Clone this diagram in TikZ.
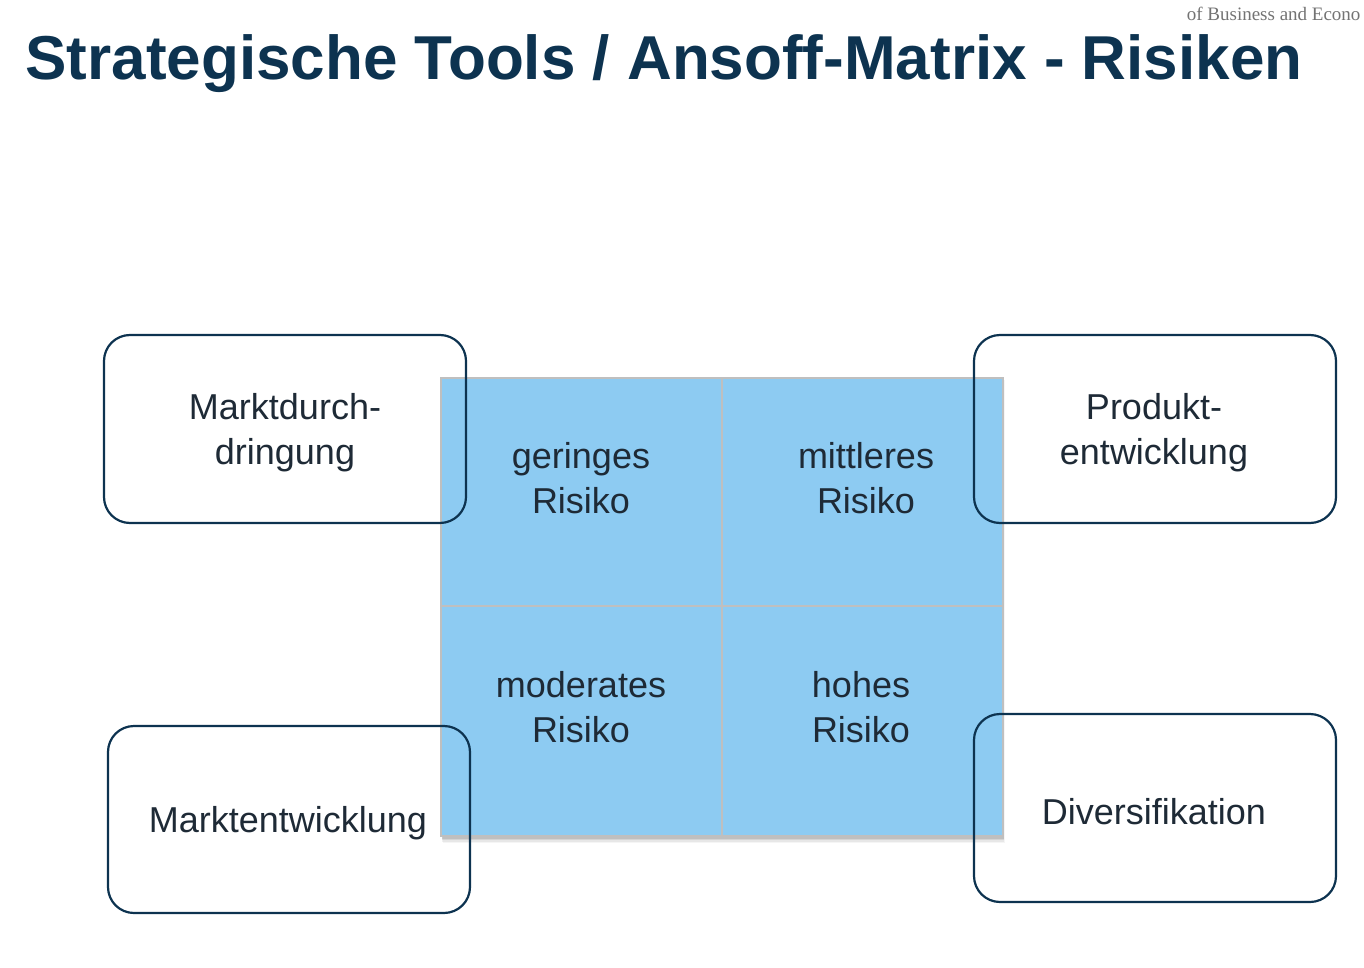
\documentclass[tikz,border=0pt]{standalone}
\usepackage{fontspec}
\setmainfont{Liberation Sans}
\newfontfamily\serifsmall{Liberation Serif}
\definecolor{navy}{HTML}{0D3350}
\definecolor{cellblue}{HTML}{8DCBF2}
\definecolor{txt}{HTML}{1E2A36}
\begin{document}
\begin{tikzpicture}[x=1pt,y=-1pt,
  lbl/.style={font=\fontsize{36}{45}\selectfont,text=txt,align=center},
  rbox/.style={draw=navy,line width=2.2pt,rounded corners=26pt},
  cell/.style={fill=cellblue,draw=black!25,line width=1.2pt}]
\useasboundingbox (0,0) rectangle (1364,968);
\node[anchor=base west,font=\bfseries\fontsize{62}{62}\selectfont,text=navy] (title) at (22,80) {Strategische Tools / Ansoff-Matrix - Risiken};
\node[anchor=base east,font=\serifsmall\fontsize{19}{19}\selectfont,text=black!55] (logo) at (1364,21) {of Business and Econo};
\foreach \i/\o in {1/0.12,2/0.1,3/0.08,4/0.06,5/0.04}
  \fill[black,opacity=\o] (441+\i*0.3,380) rectangle (1003+\i*0.3,836+\i*1.4);
\fill[cellblue] (441,378) rectangle (1003,836);
\draw[cell] (441,378) rectangle (722,606);
\draw[cell] (722,378) rectangle (1003,606);
\draw[cell] (441,606) rectangle (722,836);
\draw[cell] (722,606) rectangle (1003,836);
\node[lbl] (t1) at (581,478) {geringes\\Risiko};
\node[lbl] (t2) at (866,478) {mittleres\\Risiko};
\node[lbl] (t3) at (581,707) {moderates\\Risiko};
\node[lbl] (t4) at (861,707) {hohes\\Risiko};
\draw[rbox] (104,335) rectangle (466,523);
\draw[rbox] (108,726) rectangle (470,913);
\draw[rbox] (974,335) rectangle (1336,523);
\draw[rbox] (974,714) rectangle (1336,902);
\node[lbl] (b1) at (285,433) {Marktdurch-\\dringung};
\node[lbl] (b2) at (288,823) {Marktentwicklung};
\node[lbl] (b3) at (1154,433) {Produkt-\\entwicklung};
\node[lbl] (b4) at (1154,812) {Diversifikation};
\end{tikzpicture}
\end{document}
